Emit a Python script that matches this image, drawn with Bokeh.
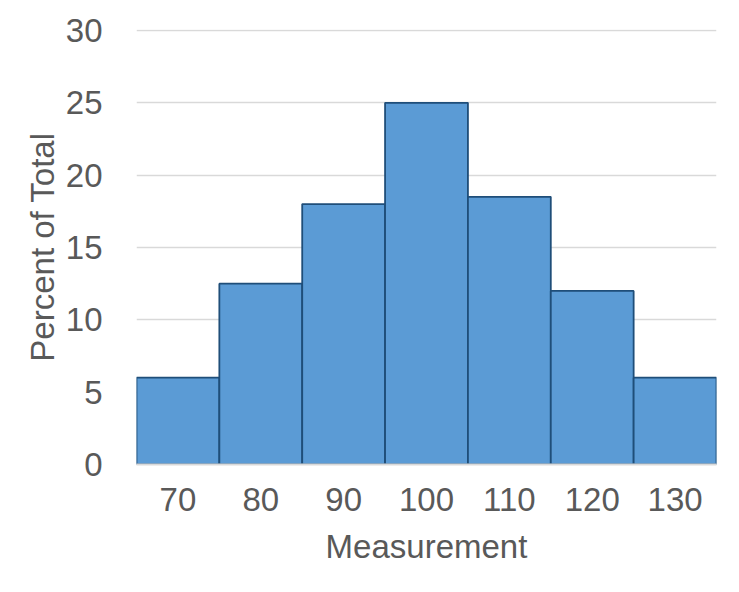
from bokeh.plotting import figure
from bokeh.models import FixedTicker, Range1d
from bokeh.embed import file_html
from bokeh.resources import INLINE

# Data
centers = [70, 80, 90, 100, 110, 120, 130]
percent = [6, 12.5, 18, 25, 18.5, 12, 6]
bin_width = 10
y_ticks = [0, 5, 10, 15, 20, 25, 30]

left = [c - bin_width / 2 for c in centers]
right = [c + bin_width / 2 for c in centers]

FONT = "Liberation Sans"
TXT = "#595959"

# y range a touch over 30 so the top gridline is not clipped
p = figure(width=723, height=576, output_backend="svg", toolbar_location=None,
           x_range=Range1d(65, 135), y_range=Range1d(0, 30.07),
           min_border_left=136, min_border_top=29, min_border_right=7,
           min_border_bottom=112)

p.quad(left=left, right=right, bottom=0, top=percent,
       fill_color="#5B9BD5", line_color="#1F4E79", line_width=1.8)

p.outline_line_color = None
p.xgrid.grid_line_color = None
p.ygrid.grid_line_color = "#D9D9D9"
p.ygrid.grid_line_width = 1.5

p.xaxis.ticker = FixedTicker(ticks=centers)
p.yaxis.ticker = FixedTicker(ticks=y_ticks)

for ax in (p.xaxis, p.yaxis):
    ax.major_tick_line_color = None
    ax.minor_tick_line_color = None
    ax.major_label_text_font = FONT
    ax.major_label_text_font_size = "33px"
    ax.major_label_text_color = TXT
    ax.axis_label_text_font = FONT
    ax.axis_label_text_font_size = "33px"
    ax.axis_label_text_font_style = "normal"
    ax.axis_label_text_color = TXT

p.yaxis.axis_line_color = None
p.xaxis.axis_line_color = "#D9D9D9"
p.xaxis.axis_line_width = 2

p.xaxis.axis_label = "Measurement"
p.yaxis.axis_label = "Percent of Total"
p.xaxis.major_label_standoff = 17
p.yaxis.major_label_standoff = 28
p.xaxis.axis_label_standoff = 14
p.yaxis.axis_label_standoff = 2

open("out.html", "w").write(file_html(p, INLINE))
